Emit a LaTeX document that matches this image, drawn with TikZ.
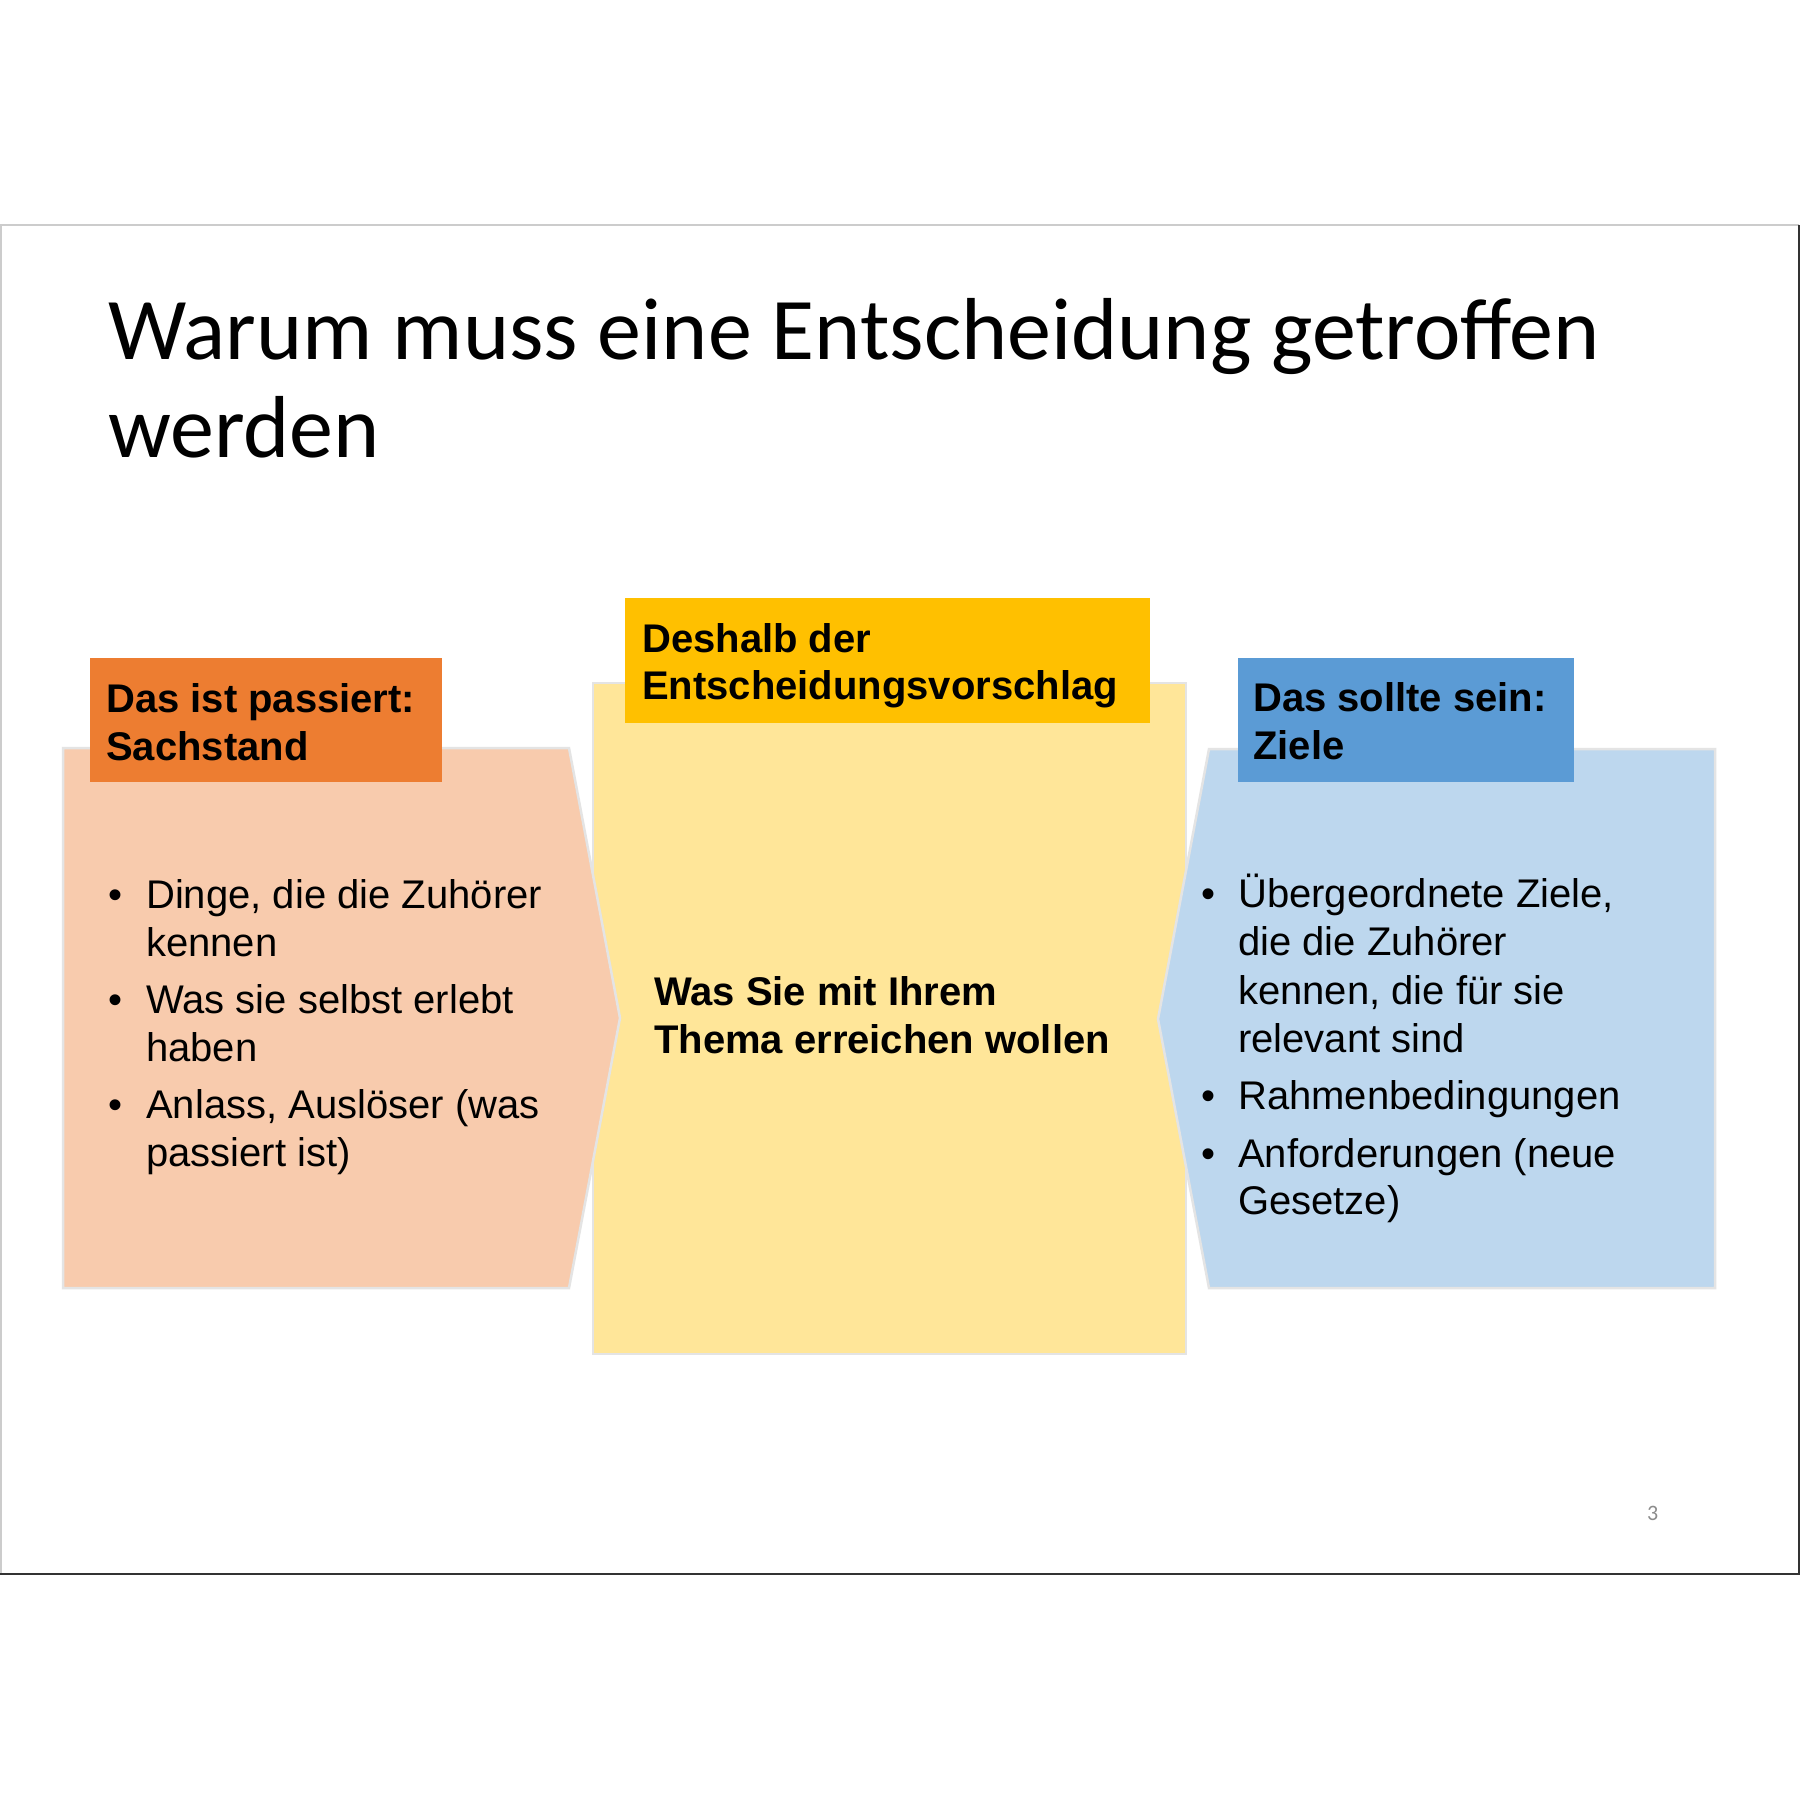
\documentclass[tikz,border=0pt]{standalone}
\usepackage{fontspec}
\setmainfont{Liberation Sans}
\newfontfamily\titlefont{Carlito}
\definecolor{hOrange}{HTML}{ED7D31}
\definecolor{pPeach}{HTML}{F8CBAD}
\definecolor{hGold}{HTML}{FFC000}
\definecolor{pYellow}{HTML}{FFE699}
\definecolor{hBlue}{HTML}{5B9BD5}
\definecolor{pBlue}{HTML}{BDD7EE}
\definecolor{pEdge}{HTML}{E4E4E4}
\tikzset{
  txt/.style={inner sep=0pt, anchor=base west},
  hdtxt/.style={txt, font=\bfseries\fontsize{40}{48}\selectfont},
  bodytxt/.style={txt, font=\fontsize{40}{48}\selectfont},
  titletxt/.style={txt, font=\titlefont\fontsize{88}{98}\selectfont},
  panel/.style={draw=pEdge, line width=2.5pt, line join=miter},
}
\begin{document}
\begin{tikzpicture}[x=1pt,y=-1pt]
\useasboundingbox (0,0) rectangle (1800,1800);
\fill[white] (0,0) rectangle (1800,1800);
% slide frame
\draw[line width=1.5pt, draw=black!20] (0.75,1574) -- (0.75,225) -- (1799,225);
\draw[line width=2pt, draw=black!80] (1799,225) -- (1799,1574) -- (0,1574);
% title
\node[titletxt] (t1) at (108,359) {Warum muss eine Entscheidung getroffen};
\node[titletxt] (t2) at (108,457) {werden};
% panels
\draw[panel, fill=pYellow] (593,683) rectangle (1186,1354);
\draw[panel, fill=pPeach] (63,748) -- (569,748) -- (620,1018) -- (569,1288) -- (63,1288) -- cycle;
\draw[panel, fill=pBlue] (1209,749) -- (1715,749) -- (1715,1288) -- (1209,1288) -- (1158,1019) -- cycle;
% headers
\fill[hOrange] (90,658) rectangle (442,782);
\fill[hGold] (625,598) rectangle (1150,723);
\fill[hBlue] (1238,658) rectangle (1574,782);
\node[hdtxt] (h1a) at (106,712) {Das ist passiert:};
\node[hdtxt] (h1b) at (106,760) {Sachstand};
\node[hdtxt] (h2a) at (642,652) {Deshalb der};
\node[hdtxt] (h2b) at (642,699) {Entscheidungsvorschlag};
\node[hdtxt] (h3a) at (1253,711) {Das sollte sein:};
\node[hdtxt] (h3b) at (1253,759) {Ziele};
% center text
\node[hdtxt] (c1) at (654,1005) {Was Sie mit Ihrem};
\node[hdtxt] (c2) at (654,1053) {Thema erreichen wollen};
% left bullets
\node[bodytxt] (lb1) at (108,908) {•};
\node[bodytxt] (l1a) at (146,908) {Dinge, die die Zuhörer};
\node[bodytxt] (l1b) at (146,956) {kennen};
\node[bodytxt] (lb2) at (108,1013) {•};
\node[bodytxt] (l2a) at (146,1013) {Was sie selbst erlebt};
\node[bodytxt] (l2b) at (146,1061) {haben};
\node[bodytxt] (lb3) at (108,1118) {•};
\node[bodytxt] (l3a) at (146,1118) {Anlass, Auslöser (was};
\node[bodytxt] (l3b) at (146,1166) {passiert ist)};
% right bullets
\node[bodytxt] (rb1) at (1201,907) {•};
\node[bodytxt] (r1a) at (1238,907) {Übergeordnete Ziele,};
\node[bodytxt] (r1b) at (1238,955) {die die Zuhörer};
\node[bodytxt] (r1c) at (1238,1004) {kennen, die für sie};
\node[bodytxt] (r1d) at (1238,1052) {relevant sind};
\node[bodytxt] (rb2) at (1201,1109) {•};
\node[bodytxt] (r2a) at (1238,1109) {Rahmenbedingungen};
\node[bodytxt] (rb3) at (1201,1167) {•};
\node[bodytxt] (r3a) at (1238,1167) {Anforderungen (neue};
\node[bodytxt] (r3b) at (1238,1214) {Gesetze)};
% page number
\node[txt, font=\titlefont\fontsize{22}{26}\selectfont, text=black!45] (pg) at (1647,1520) {3};
\end{tikzpicture}
\end{document}
